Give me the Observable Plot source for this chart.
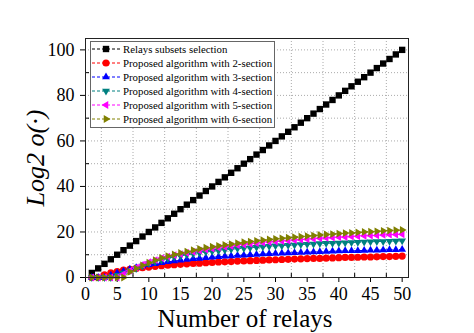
<!DOCTYPE html>
<html><head><meta charset="utf-8">
<script src="https://cdn.jsdelivr.net/npm/d3@7"></script>
<script src="https://cdn.jsdelivr.net/npm/@observablehq/plot@0.6"></script>
<style>
body{margin:0;background:#fff;}
#wrap{position:relative;width:474px;height:333px;overflow:hidden;}
#legend{position:absolute;left:90px;top:41px;border:1px solid #666;background:#fff;font-family:"Liberation Serif",serif;font-size:10.8px;padding:0 2px 1px 0;color:#000;}
.row{display:flex;align-items:center;height:14px;white-space:nowrap;}
.row svg{margin-right:2px;}
#xt{position:absolute;left:0;width:474px;top:305px;text-align:center;font-family:"Liberation Serif",serif;font-size:25px;line-height:28px;padding-left:16px;box-sizing:border-box;}
#yt{position:absolute;left:36px;top:158px;transform:translate(-50%,-50%) rotate(-90deg);font-family:"Liberation Serif",serif;font-style:italic;font-size:26px;white-space:nowrap;}
#wrap > svg text{font-family:"Liberation Serif",serif !important;font-size:18px !important;}
</style></head><body><div id="wrap"><div id="legend"></div><div id="xt">Number of relays</div><div id="yt">Log2 o(·)</div></div>
<script>
const relays = [1,2,3,4,5,6,7,8,9,10,11,12,13,14,15,16,17,18,19,20,21,22,23,24,25,26,27,28,29,30,31,32,33,34,35,36,37,38,39,40,41,42,43,44,45,46,47,48,49,50];
const subsetsSelection = [2,4,6,8,10,12,14,16,18,20,22,24,26,28,30,32,34,36,38,40,42,44,46,48,50,52,54,56,58,60,62,64,66,68,70,72,74,76,78,80,82,84,86,88,90,92,94,96,98,100];
const section2 = [0,0,1.2,2.0,2.6,3.2,3.6,4.0,4.3,4.6, 4.9,5.2,5.4,5.6,5.8,6.0,6.2,6.3,6.5,6.6, 6.8,6.9,7.0,7.2,7.3,7.4,7.5,7.6,7.7,7.8, 7.9,8.0,8.1,8.2,8.3,8.4,8.4,8.5,8.6,8.7, 8.8,8.8,8.9,9.0,9.0,9.1,9.2,9.2,9.3,9.4];
const section3 = [0,0,0,1.0,2.0,2.8,3.6,4.3,5.0,5.6, 6.0,6.5,6.9,7.2,7.6,7.9,8.2,8.4,8.7,8.9, 9.1,9.3,9.5,9.7,9.8,10.0,10.1,10.3,10.4,10.5, 10.7,10.8,10.9,11.0,11.1,11.2,11.3,11.4,11.5,11.6, 11.7,11.7,11.8,11.9,12.0,12.0,12.1,12.2,12.2,12.3];
const section4 = [0,0,0,0,1.0,2.0,3.0,4.0,5.0,6.0, 6.9,7.7,8.4,9.0,9.5,10.0,10.4,10.8,11.2,11.5, 11.8,12.1,12.4,12.7,12.9,13.1,13.3,13.5,13.7,13.9, 14.0,14.2,14.3,14.5,14.6,14.7,14.9,15.0,15.1,15.2, 15.3,15.4,15.5,15.6,15.7,15.8,15.8,15.9,16.0,16.1];
const section5 = [0,0,0,0,0,1.5,3.0,4.3,5.6,6.7, 7.6,8.5,9.2,9.8,10.3,10.8,11.3,11.8,12.3,12.7, 13.1,13.5,13.8,14.2,14.5,14.8,15.1,15.3,15.6,15.8, 16.0,16.2,16.4,16.6,16.8,17.0,17.2,17.4,17.5,17.7, 17.8,18.0,18.1,18.3,18.4,18.5,18.7,18.8,18.9,19.0];
const section6 = [0,0,0,0,0,0,2.5,4.0,5.3,6.5, 7.6,8.6,9.4,10.1,10.8,11.4,12.0,12.6,13.1,13.5, 13.9,14.3,14.7,15.1,15.5,15.8,16.1,16.4,16.7,17.0, 17.2,17.5,17.7,18.0,18.2,18.4,18.7,18.9,19.1,19.3, 19.5,19.6,19.8,20.0,20.1,20.3,20.5,20.6,20.8,20.9];
const seriesNames = ["Relays subsets selection","Proposed algorithm with 2-section","Proposed algorithm with 3-section","Proposed algorithm with 4-section","Proposed algorithm with 5-section","Proposed algorithm with 6-section"];
const seriesValues = [subsetsSelection, section2, section3, section4, section5, section6];
const seriesColors = ["#000000","#ff0000","#0000ff","#008080","#ff00ff","#808000"];
const xTicks = [0,5,10,15,20,25,30,35,40,45,50];
const xMinor = [2.5,7.5,12.5,17.5,22.5,27.5,32.5,37.5,42.5,47.5];
const yTicks = [0,20,40,60,80,100];
const yMinor = [10,30,50,70,90];
const yGrid = [10,20,30,40,50,60,70,80,90,100];

function tri(angle){
  return {draw(ctx,size){
    const r = Math.sqrt(size/Math.PI)*1.25;
    for(let i=0;i<3;i++){
      const a = angle + i*2*Math.PI/3;
      const x = r*Math.cos(a), y = r*Math.sin(a);
      if(i===0) ctx.moveTo(x,y); else ctx.lineTo(x,y);
    }
    ctx.closePath();
  }};
}
const seriesSymbols = ["square","circle", tri(-Math.PI/2), tri(Math.PI/2), tri(Math.PI), tri(0)];

const data = seriesValues.map((vals,i)=>relays.map((x,j)=>({x, y: vals[j], s: i})));

const marks = [
  Plot.gridY(yGrid, {stroke:"#aaa", strokeOpacity:1, strokeDasharray:"1,2"}),
  Plot.gridX(xMinor, {stroke:"#aaa", strokeOpacity:1, strokeDasharray:"1,2"}),
  Plot.axisX({ticks: xTicks, tickSize: 5, tickPadding: 5, label: null}),
  Plot.axisX({ticks: xMinor, tickSize: -4, tickFormat: () => "", label: null}),
  Plot.axisY({ticks: yTicks, tickSize: 5, tickPadding: 6, label: null}),
  Plot.axisY({ticks: yMinor, tickSize: -4, tickFormat: () => "", label: null}),
];
data.forEach((rows,i)=>{
  marks.push(Plot.line(rows, {x:"x", y:"y", stroke: seriesColors[i], strokeWidth: 1, strokeDasharray: "3,2"}));
  marks.push(Plot.dot(rows, {x:"x", y:"y", symbol: seriesSymbols[i], fill: seriesColors[i], stroke: "none", r: 3.6}));
});
marks.push(Plot.frame({stroke:"#222", strokeWidth:1}));

const chart = Plot.plot({
  width: 474, height: 333,
  marginLeft: 85, marginRight: 66, marginTop: 38, marginBottom: 56,
  x: {domain:[0,51]},
  y: {domain:[0,105]},
  style: {fontFamily:"'Liberation Serif', serif", fontSize:"18px", background:"#fff", color:"#000"},
  marks
});
document.getElementById("wrap").prepend(chart);

const leg = document.getElementById("legend");
seriesNames.forEach((name,i)=>{
  const row = document.createElement("div");
  row.className = "row";
  const svg = d3.create("svg").attr("width",30).attr("height",14);
  svg.append("line").attr("x1",1).attr("x2",29).attr("y1",7).attr("y2",7)
    .attr("stroke",seriesColors[i]).attr("stroke-dasharray","3,2");
  const sym = typeof seriesSymbols[i] === "string" ? (seriesSymbols[i]==="square"? d3.symbolSquare : d3.symbolCircle) : seriesSymbols[i];
  svg.append("path").attr("transform","translate(15,7)").attr("d", d3.symbol(sym, Math.PI*3.6*3.6)()).attr("fill",seriesColors[i]);
  row.appendChild(svg.node());
  const t = document.createElement("span");
  t.textContent = name;
  row.appendChild(t);
  leg.appendChild(row);
});
</script>
</body></html>
